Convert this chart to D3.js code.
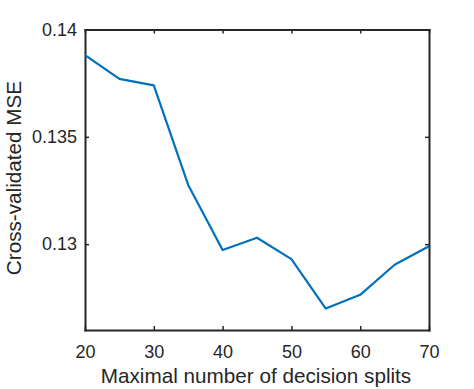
<!DOCTYPE html>
<html>
<head>
  <script src="https://d3js.org/d3.v7.min.js"></script>
  <style>
    body { margin: 0; background: #fff; }
    text { font-family: "Liberation Sans", Arial, sans-serif; fill: #262626; }
  </style>
</head>
<body>
<script>
// data
var splits = [20, 25, 30, 35, 40, 45, 50, 55, 60, 65, 70];
var mse = [0.13881, 0.13770, 0.13740, 0.13276, 0.12973, 0.13030, 0.12930, 0.12700, 0.12764, 0.12904, 0.12990];
var xTicks = [20, 30, 40, 50, 60, 70];
var yTicks = [0.13, 0.135, 0.14];
var yTickLabels = ["0.13", "0.135", "0.14"];

var W = 474, H = 389;
// plot box (window.top is read-only, so no "top" here)
var boxL = 85, boxR = 429, boxT = 29.5, boxB = 330;

var svg = d3.select("body").append("svg").attr("width", W).attr("height", H);

var x = d3.scaleLinear().domain([20, 70]).range([boxL, boxR]);
var y = d3.scaleLinear().domain([0.126, 0.14]).range([boxB, boxT]);

var axisColor = "#262626";

// bottom axis with labels
var gx = svg.append("g").attr("transform", "translate(0," + boxB + ")")
  .call(d3.axisBottom(x).tickValues(xTicks).tickSizeInner(-4).tickSizeOuter(0).tickPadding(15)
    .tickFormat(d3.format("d")));
// top axis, ticks only
var gxt = svg.append("g").attr("transform", "translate(0," + boxT + ")")
  .call(d3.axisTop(x).tickValues(xTicks).tickSizeInner(-4).tickSizeOuter(0).tickFormat(""));
// left axis with labels
var gy = svg.append("g").attr("transform", "translate(" + boxL + ",0)")
  .call(d3.axisLeft(y).tickValues(yTicks).tickSizeInner(-4).tickSizeOuter(0).tickPadding(8)
    .tickFormat(function(d, i) { return yTickLabels[i]; }));
// right axis, ticks only
var gyr = svg.append("g").attr("transform", "translate(" + boxR + ",0)")
  .call(d3.axisRight(y).tickValues(yTicks).tickSizeInner(-4).tickSizeOuter(0).tickFormat(""));

[gx, gxt, gy, gyr].forEach(function(g) {
  g.select(".domain").attr("stroke", axisColor).attr("stroke-width", 2)
    .attr("stroke-linecap", "square");
  g.selectAll(".tick line").attr("stroke", axisColor).attr("stroke-width", 1.5);
  g.selectAll(".tick text").attr("font-size", 18).attr("fill", axisColor)
    .attr("font-family", "Liberation Sans, Arial, sans-serif");
});

// the curve
var line = d3.line()
  .x(function(d, i) { return x(splits[i]); })
  .y(function(d) { return y(d); });

svg.append("path").datum(mse)
  .attr("d", line)
  .attr("fill", "none")
  .attr("stroke", "#0072BD")
  .attr("stroke-width", 2.2)
  .attr("stroke-linejoin", "round");

// axis titles
svg.append("text")
  .attr("x", 256).attr("y", 383)
  .attr("text-anchor", "middle").attr("font-size", 20.7)
  .text("Maximal number of decision splits");

svg.append("text")
  .attr("transform", "translate(21,178) rotate(-90)")
  .attr("text-anchor", "middle").attr("font-size", 20.7)
  .text("Cross-validated MSE");
</script>
</body>
</html>
